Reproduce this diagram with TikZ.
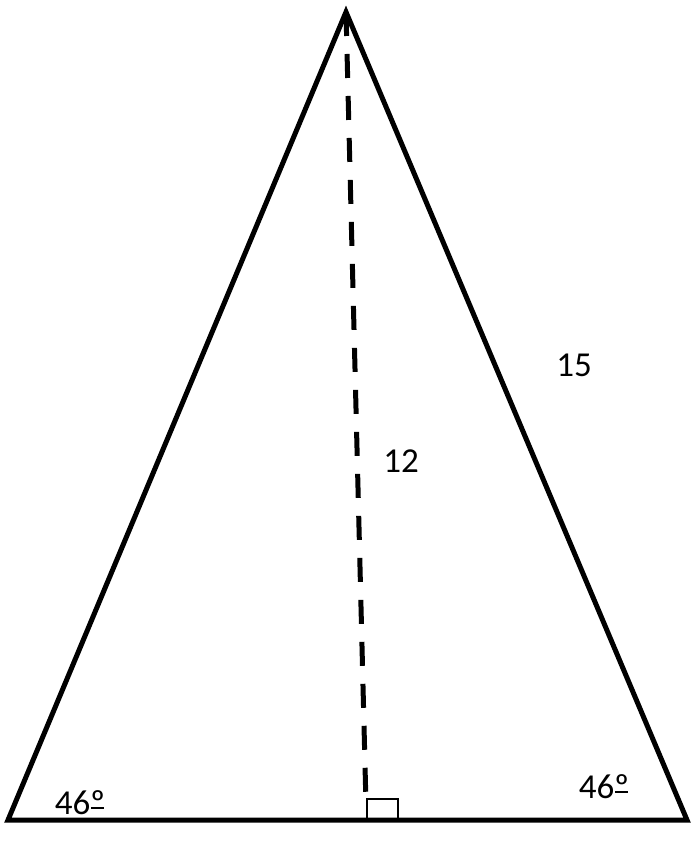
\documentclass[tikz,border=0pt]{standalone}
\usepackage{fontspec}
\setmainfont{Carlito}
\newcommand{\ordund}{{\setbox0\hbox{º}\rlap{\hspace{0.02em}\raisebox{0.16em}{\rule{\dimexpr\wd0-0.06em\relax}{0.06em}}}\box0}}
\begin{document}
\begin{tikzpicture}[x=1pt,y=-1pt,
  side/.style={line width=5pt,line join=miter},
  height/.style={line width=5pt,dash pattern=on 24pt off 18pt},
  lbl/.style={inner sep=0pt,font=\fontsize{35}{40}\selectfont}]
\useasboundingbox (0,0) rectangle (693,848);
\coordinate (A) at (346,12);
\coordinate (B) at (8,820);
\coordinate (C) at (687,820);
\coordinate (H) at (366,805);
\draw[side] (A) -- (B) -- (C) -- cycle;
\draw[height] (A) -- (H);
\draw[line width=2pt] (367,799) rectangle (398,820);
\node[lbl] (s15) at (574,365) {15};
\node[lbl] (s12) at (401,461) {12};
\node[lbl] (aL) at (80,803) {46\ordund};
\node[lbl] (aR) at (604,787) {46\ordund};
\end{tikzpicture}
\end{document}
